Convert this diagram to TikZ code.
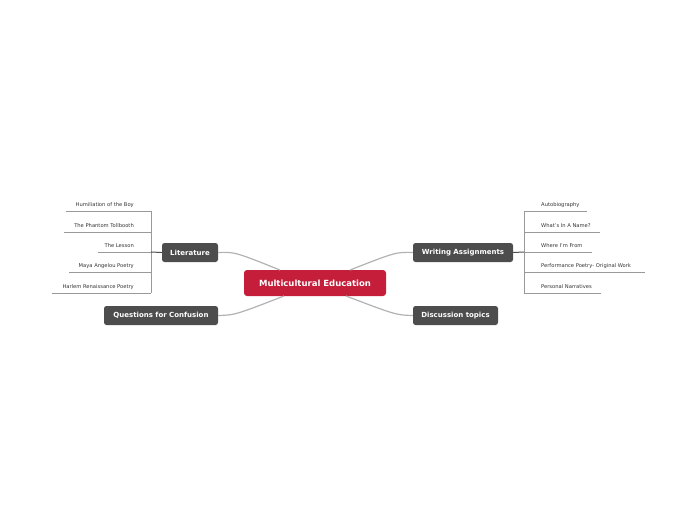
\documentclass[tikz,border=0pt]{standalone}
\usepackage{fontspec}
\setmainfont{DejaVu Sans}
\begin{document}
\begin{tikzpicture}[x=1pt,y=-1pt,
  topic/.style={fill=dark,rounded corners=2.5pt,text=white,font=\fontsize{7}{8}\selectfont\bfseries,inner sep=0pt},
  leaf/.style={font=\fontsize{5.2}{6}\selectfont,text=black!80,inner sep=0pt},
  conn/.style={draw=gray!60,line width=1.2pt},
  tree/.style={draw=gray!80,line width=0.7pt}]
\definecolor{dark}{HTML}{4D4D4D}
\definecolor{crim}{HTML}{C41E3A}
\useasboundingbox (0,0) rectangle (697,520);
\node[fill=crim,rounded corners=3pt,text=white,font=\fontsize{8.5}{10}\selectfont\bfseries,minimum width=142pt,minimum height=26pt,inner sep=0pt] (c) at (315,283) {Multicultural Education};
\node[topic,minimum width=56pt,minimum height=19pt] (lit) at (190,252.5) {Literature};
\node[topic,minimum width=114pt,minimum height=19pt] (q) at (161,315.5) {Questions for Confusion};
\node[topic,minimum width=100pt,minimum height=19pt] (w) at (463,252.5) {Writing Assignments};
\node[topic,minimum width=85pt,minimum height=19pt] (d) at (455.5,315.5) {Discussion topics};
\coordinate (ctl) at (280,270); \coordinate (ctr) at (350,270);
\coordinate (cbl) at (284,296); \coordinate (cbr) at (346,296);
\draw[conn] (lit.east) .. controls (235,252) .. (ctl);
\draw[conn] (q.east) .. controls (235,315) .. (cbl);
\draw[conn] (w.west) .. controls (396,252) .. (ctr);
\draw[conn] (d.west) .. controls (396,315) .. (cbr);
% left tree
\coordinate (lt) at (151,211); \coordinate (lb) at (151,293); \coordinate (lm) at (151,252);
\draw[tree] (lt) -- (lb);
\draw[draw=dark,line width=1pt] (lit.west) -- (lm);
\foreach \y/\x/\t/\n in {211/66/Humiliation of the Boy/l1,232/64/The Phantom Tollbooth/l2,252/98/The Lesson/l3,272/69/Maya Angelou Poetry/l4,293/52/Harlem Renaissance Poetry/l5}{
  \coordinate (\n a) at (\x,\y); \coordinate (\n b) at (151,\y);
  \draw[tree] (\n a) -- (\n b);
  \node[leaf,anchor=base east] (\n) at (134,\y-5) {\t};
}
% right tree
\coordinate (rt) at (524,211); \coordinate (rb) at (524,293); \coordinate (rm) at (524,252);
\draw[tree] (rt) -- (rb);
\draw[draw=dark,line width=1pt] (w.east) -- (rm);
\foreach \y/\x/\t/\n in {211/587/Autobiography/r1,232/600/What's In A Name?/r2,252/592/Where I'm From/r3,272/645/Performance Poetry- Original Work/r4,293/601/Personal Narratives/r5}{
  \coordinate (\n a) at (524,\y); \coordinate (\n b) at (\x,\y);
  \draw[tree] (\n a) -- (\n b);
  \node[leaf,anchor=base west] (\n) at (541,\y-5) {\t};
}
\end{tikzpicture}
\end{document}
